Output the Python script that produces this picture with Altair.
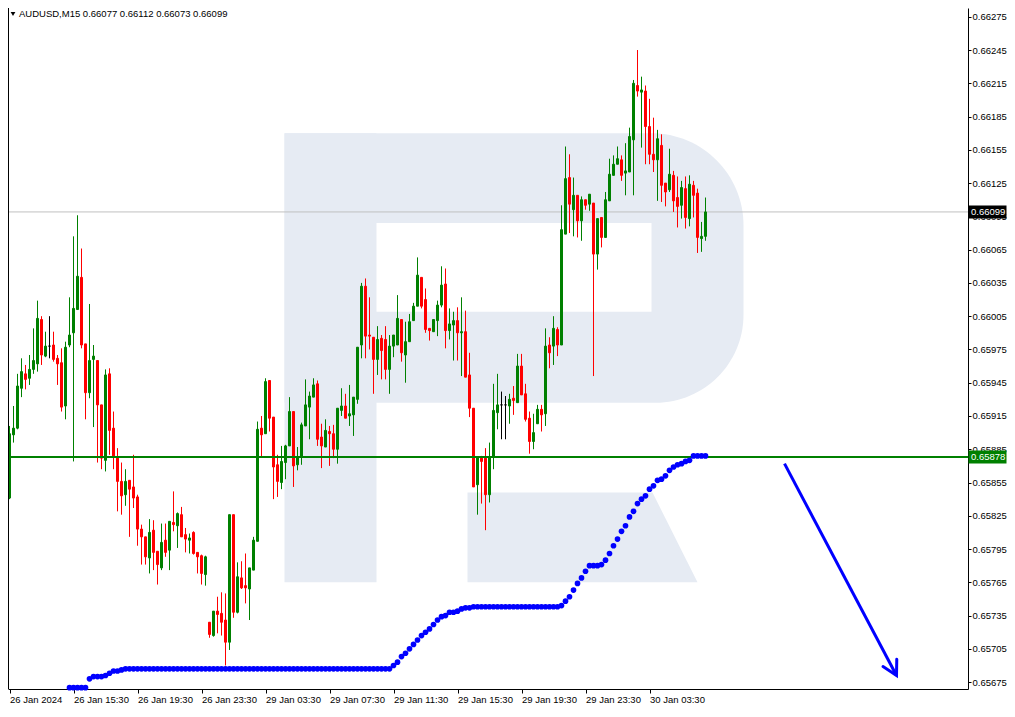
import math
import altair as alt
import pandas as pd
import numpy as np

# ---------------- data (AUDUSD M15) ----------------
bar_open = [
    0.65841, 0.65898, 0.65904, 0.65940, 0.65953, 0.65949, 0.65957, 0.65962, 0.66002, 0.65969,
    0.65978, 0.65979, 0.65967, 0.65963, 0.65924, 0.65979, 0.65990, 0.66011, 0.66040, 0.65980,
    0.65936, 0.65966, 0.65965, 0.65925, 0.65875, 0.65953, 0.65904, 0.65877, 0.65856, 0.65844,
    0.65857, 0.65851, 0.65842, 0.65813, 0.65806, 0.65787, 0.65812, 0.65793, 0.65778, 0.65803,
    0.65794, 0.65819, 0.65816, 0.65826, 0.65808, 0.65803, 0.65810, 0.65792, 0.65789, 0.65772,
    0.65729, 0.65717, 0.65739, 0.65737, 0.65731, 0.65711, 0.65826, 0.65738, 0.65769, 0.65762,
    0.65759, 0.65776, 0.65802, 0.65904, 0.65899, 0.65947, 0.65914, 0.65871, 0.65855, 0.65873,
    0.65888, 0.65919, 0.65871, 0.65878, 0.65906, 0.65923, 0.65932, 0.65944, 0.65896, 0.65887,
    0.65901, 0.65899, 0.65885, 0.65920, 0.65924, 0.65915, 0.65916, 0.65930, 0.65979, 0.66032,
    0.65988, 0.65986, 0.65966, 0.65985, 0.65984, 0.65957, 0.65978, 0.65979, 0.66002, 0.65970,
    0.65982, 0.66001, 0.66014, 0.66040, 0.66020, 0.65994, 0.65991, 0.66001, 0.66015, 0.66034,
    0.65992, 0.65997, 0.66001, 0.65990, 0.65991, 0.65952, 0.65922, 0.65853, 0.65877, 0.65877,
    0.65844, 0.65878, 0.65918, 0.65925, 0.65925, 0.65924, 0.65931, 0.65927, 0.65960, 0.65935,
    0.65913, 0.65892, 0.65908, 0.65921, 0.65917, 0.65979, 0.65978, 0.65993, 0.65979, 0.66079,
    0.66130, 0.66101, 0.66114, 0.66091, 0.66110, 0.66106, 0.66107, 0.66061, 0.66094, 0.66076,
    0.66109, 0.66132, 0.66142, 0.66146, 0.66134, 0.66135, 0.66164, 0.66213, 0.66207, 0.66208,
    0.66176, 0.66151, 0.66146, 0.66159, 0.66125, 0.66119, 0.66132, 0.66112, 0.66105, 0.66120,
    0.66093, 0.66123, 0.66116, 0.66075, 0.66077,
]
bar_high = [
    0.65906, 0.65924, 0.65953, 0.65967, 0.65961, 0.65970, 0.65994, 0.66019, 0.66005, 0.65991,
    0.66005, 0.65991, 0.65970, 0.65976, 0.65982, 0.66022, 0.66077, 0.66096, 0.66066, 0.65980,
    0.66016, 0.65979, 0.65965, 0.65925, 0.65957, 0.65958, 0.65919, 0.65886, 0.65873, 0.65867,
    0.65857, 0.65880, 0.65844, 0.65817, 0.65806, 0.65822, 0.65821, 0.65793, 0.65818, 0.65818,
    0.65820, 0.65847, 0.65828, 0.65833, 0.65814, 0.65809, 0.65811, 0.65792, 0.65790, 0.65789,
    0.65729, 0.65739, 0.65752, 0.65756, 0.65755, 0.65826, 0.65826, 0.65783, 0.65784, 0.65791,
    0.65778, 0.65806, 0.65910, 0.65915, 0.65949, 0.65947, 0.65914, 0.65880, 0.65888, 0.65889,
    0.65932, 0.65919, 0.65887, 0.65909, 0.65948, 0.65937, 0.65949, 0.65947, 0.65908, 0.65912,
    0.65906, 0.65907, 0.65922, 0.65940, 0.65935, 0.65943, 0.65932, 0.65977, 0.66035, 0.66039,
    0.66022, 0.65986, 0.65996, 0.65988, 0.65996, 0.65988, 0.65988, 0.66024, 0.66002, 0.66000,
    0.66007, 0.66017, 0.66058, 0.66040, 0.66030, 0.65994, 0.66002, 0.66019, 0.66050, 0.66048,
    0.66012, 0.66009, 0.66013, 0.66022, 0.66010, 0.65972, 0.65922, 0.65878, 0.65879, 0.65886,
    0.65891, 0.65944, 0.65953, 0.65937, 0.65933, 0.65935, 0.65942, 0.65971, 0.65971, 0.65944,
    0.65919, 0.65917, 0.65925, 0.65925, 0.65994, 0.65986, 0.66005, 0.65995, 0.66105, 0.66158,
    0.66151, 0.66130, 0.66114, 0.66113, 0.66110, 0.66115, 0.66107, 0.66093, 0.66094, 0.66117,
    0.66147, 0.66150, 0.66158, 0.66150, 0.66161, 0.66175, 0.66218, 0.66245, 0.66221, 0.66213,
    0.66201, 0.66184, 0.66173, 0.66169, 0.66125, 0.66156, 0.66136, 0.66131, 0.66127, 0.66131,
    0.66132, 0.66127, 0.66120, 0.66090, 0.66112,
]
bar_low = [
    0.65840, 0.65891, 0.65903, 0.65932, 0.65939, 0.65943, 0.65953, 0.65955, 0.65961, 0.65968,
    0.65967, 0.65964, 0.65943, 0.65919, 0.65912, 0.65977, 0.65874, 0.66011, 0.65976, 0.65912,
    0.65931, 0.65905, 0.65873, 0.65867, 0.65865, 0.65880, 0.65867, 0.65829, 0.65826, 0.65834,
    0.65806, 0.65832, 0.65798, 0.65781, 0.65781, 0.65773, 0.65776, 0.65763, 0.65776, 0.65788,
    0.65776, 0.65811, 0.65796, 0.65806, 0.65792, 0.65791, 0.65790, 0.65773, 0.65763, 0.65762,
    0.65715, 0.65716, 0.65719, 0.65717, 0.65690, 0.65704, 0.65733, 0.65737, 0.65759, 0.65746,
    0.65731, 0.65776, 0.65802, 0.65878, 0.65899, 0.65901, 0.65840, 0.65842, 0.65849, 0.65858,
    0.65888, 0.65851, 0.65866, 0.65871, 0.65906, 0.65894, 0.65932, 0.65888, 0.65868, 0.65887,
    0.65870, 0.65877, 0.65872, 0.65915, 0.65913, 0.65906, 0.65897, 0.65926, 0.65967, 0.65967,
    0.65975, 0.65935, 0.65952, 0.65948, 0.65948, 0.65935, 0.65968, 0.65979, 0.65964, 0.65945,
    0.65982, 0.66001, 0.66014, 0.66012, 0.65990, 0.65983, 0.65991, 0.65987, 0.66013, 0.65976,
    0.65984, 0.65965, 0.65965, 0.65951, 0.65950, 0.65914, 0.65851, 0.65826, 0.65836, 0.65812,
    0.65837, 0.65867, 0.65903, 0.65894, 0.65894, 0.65908, 0.65916, 0.65927, 0.65934, 0.65910,
    0.65881, 0.65885, 0.65908, 0.65901, 0.65906, 0.65958, 0.65961, 0.65969, 0.65979, 0.66079,
    0.66080, 0.66077, 0.66076, 0.66073, 0.66101, 0.66100, 0.65951, 0.66047, 0.66067, 0.66076,
    0.66109, 0.66132, 0.66142, 0.66127, 0.66114, 0.66135, 0.66114, 0.66203, 0.66157, 0.66142,
    0.66142, 0.66135, 0.66109, 0.66108, 0.66104, 0.66117, 0.66099, 0.66085, 0.66093, 0.66084,
    0.66086, 0.66094, 0.66062, 0.66063, 0.66073,
]
bar_close = [
    0.65899, 0.65904, 0.65942, 0.65955, 0.65948, 0.65957, 0.65965, 0.66003, 0.65970, 0.65978,
    0.65978, 0.65966, 0.65962, 0.65923, 0.65977, 0.65988, 0.66012, 0.66041, 0.65979, 0.65936,
    0.65965, 0.65969, 0.65925, 0.65877, 0.65952, 0.65902, 0.65879, 0.65856, 0.65843, 0.65856,
    0.65849, 0.65841, 0.65813, 0.65806, 0.65788, 0.65810, 0.65792, 0.65781, 0.65801, 0.65792,
    0.65820, 0.65817, 0.65827, 0.65806, 0.65804, 0.65805, 0.65791, 0.65788, 0.65773, 0.65788,
    0.65718, 0.65739, 0.65736, 0.65729, 0.65711, 0.65826, 0.65738, 0.65770, 0.65760, 0.65760,
    0.65778, 0.65803, 0.65903, 0.65898, 0.65946, 0.65913, 0.65869, 0.65856, 0.65874, 0.65888,
    0.65919, 0.65870, 0.65878, 0.65907, 0.65925, 0.65933, 0.65943, 0.65894, 0.65888, 0.65902,
    0.65899, 0.65885, 0.65922, 0.65924, 0.65913, 0.65917, 0.65932, 0.65977, 0.66032, 0.65987,
    0.65987, 0.65966, 0.65984, 0.65974, 0.65957, 0.65978, 0.65988, 0.66003, 0.65972, 0.65982,
    0.66000, 0.66014, 0.66042, 0.66014, 0.65993, 0.65992, 0.66002, 0.66015, 0.66033, 0.65992,
    0.65998, 0.66001, 0.65990, 0.65991, 0.65950, 0.65922, 0.65851, 0.65878, 0.65874, 0.65844,
    0.65878, 0.65920, 0.65925, 0.65925, 0.65925, 0.65930, 0.65929, 0.65960, 0.65934, 0.65912,
    0.65892, 0.65900, 0.65921, 0.65916, 0.65978, 0.65972, 0.65994, 0.65979, 0.66083, 0.66129,
    0.66106, 0.66114, 0.66091, 0.66110, 0.66105, 0.66115, 0.66061, 0.66093, 0.66076, 0.66110,
    0.66133, 0.66142, 0.66147, 0.66132, 0.66136, 0.66167, 0.66215, 0.66208, 0.66209, 0.66176,
    0.66151, 0.66146, 0.66165, 0.66123, 0.66117, 0.66133, 0.66109, 0.66104, 0.66121, 0.66094,
    0.66124, 0.66114, 0.66076, 0.66077, 0.66099,
]

# trailing-stop style dotted indicator (one dot per bar, starting at bar 15)
sar_first_bar = 15
sar_values = [
    0.65670, 0.65670, 0.65670, 0.65670, 0.65670, 0.65678, 0.65680, 0.65680, 0.65680, 0.65681,
    0.65683, 0.65685, 0.65685, 0.65686, 0.65687, 0.65687, 0.65687, 0.65687, 0.65687, 0.65687,
    0.65687, 0.65687, 0.65687, 0.65687, 0.65687, 0.65687, 0.65687, 0.65687, 0.65687, 0.65687,
    0.65687, 0.65687, 0.65687, 0.65687, 0.65687, 0.65687, 0.65687, 0.65687, 0.65687, 0.65687,
    0.65687, 0.65687, 0.65687, 0.65687, 0.65687, 0.65687, 0.65687, 0.65687, 0.65687, 0.65687,
    0.65687, 0.65687, 0.65687, 0.65687, 0.65687, 0.65687, 0.65687, 0.65687, 0.65687, 0.65687,
    0.65687, 0.65687, 0.65687, 0.65687, 0.65687, 0.65687, 0.65687, 0.65687, 0.65687, 0.65687,
    0.65687, 0.65687, 0.65687, 0.65687, 0.65687, 0.65687, 0.65687, 0.65687, 0.65687, 0.65687,
    0.65687, 0.65690, 0.65693, 0.65698, 0.65701, 0.65705, 0.65709, 0.65713, 0.65717, 0.65720,
    0.65723, 0.65727, 0.65731, 0.65734, 0.65735, 0.65738, 0.65738, 0.65739, 0.65741, 0.65742,
    0.65742, 0.65743, 0.65743, 0.65743, 0.65743, 0.65743, 0.65743, 0.65743, 0.65743, 0.65743,
    0.65743, 0.65743, 0.65743, 0.65743, 0.65743, 0.65743, 0.65743, 0.65743, 0.65743, 0.65743,
    0.65743, 0.65743, 0.65743, 0.65744, 0.65748, 0.65752, 0.65758, 0.65764, 0.65769, 0.65775,
    0.65780, 0.65780, 0.65780, 0.65781, 0.65785, 0.65791, 0.65798, 0.65804, 0.65811, 0.65816,
    0.65824, 0.65829, 0.65836, 0.65840, 0.65843, 0.65849, 0.65852, 0.65857, 0.65858, 0.65861,
    0.65866, 0.65869, 0.65871, 0.65872, 0.65874, 0.65875, 0.65879, 0.65879, 0.65879, 0.65879,
]

time_label_bars = [0, 16, 32, 48, 64, 80, 96, 112, 128, 144, 160]
time_labels = ["26 Jan 2024", "26 Jan 15:30", "26 Jan 19:30", "26 Jan 23:30",
               "29 Jan 03:30", "29 Jan 07:30", "29 Jan 11:30", "29 Jan 15:30",
               "29 Jan 19:30", "29 Jan 23:30", "30 Jan 03:30"]
price_ticks = [0.65675, 0.65705, 0.65735, 0.65765, 0.65795, 0.65825, 0.65855, 0.65885,
               0.65915, 0.65945, 0.65975, 0.66005, 0.66035, 0.66065, 0.66095, 0.66125,
               0.66155, 0.66185, 0.66215, 0.66245, 0.66275]
bid_price = 0.66099
level_price = 0.65878
title_text = "AUDUSD,M15  0.66077 0.66112 0.66073 0.66099"
arrow_bars = [193.75, 221.75]
arrow_prices = [0.65872, 0.65681]

# watermark logo (in bar / price units)
wm_stem_bars, wm_stem_prices = [68.75, 91.75], [0.65765, 0.66170]
wm_bowl_bars, wm_bowl_prices = [68.75, 183.5], [0.65927, 0.66170]
wm_hole_bars, wm_hole_prices = [91.75, 160.5], [0.66009, 0.66089]
wm_leg_prices = [0.65846, 0.65765]
wm_leg_left = [114.5, 114.5]
wm_leg_right = [160.75, 172.0]

assert len(bar_open) == len(bar_high) == len(bar_low) == len(bar_close) == 175
assert len(sar_values) == 160

# ---------------- layout / style ----------------
W, H = 960, 681
PAD_R, PAD_B = 39, 16
X_DOMAIN = [-0.375, 239.625]          # 4 px per bar, bar centres on half pixels
Y_DOMAIN = [0.656688, 0.662829]
FONT = "Liberation Sans"
GREEN, RED, BLUE = "#008000", "#ff0000", "#0000ff"
WM = "#e6ebf3"

xs = alt.Scale(domain=X_DOMAIN, nice=False, zero=False)
ys = alt.Scale(domain=Y_DOMAIN, nice=False, zero=False)

label_arr = "[" + ",".join("'%s'" % s for s in time_labels) + "]"
bar_arr = "[" + ",".join(str(b) for b in time_label_bars) + "]"
x_axis = alt.Axis(values=time_label_bars, labelExpr=f"{label_arr}[indexof({bar_arr}, datum.value)]",
                  orient="bottom", grid=False, title=None, domainColor="black", domainWidth=1,
                  tickColor="black", tickSize=4, labelAlign="left", labelBaseline="top",
                  labelPadding=1, labelFont=FONT, labelFontSize=9.5, labelColor="black",
                  labelFlush=False, labelOverlap=False, labelBound=False)
y_axis = alt.Axis(values=price_ticks, format=".5f", orient="right", grid=False, title=None,
                  domainColor="black", domainWidth=1, tickColor="black", tickSize=3,
                  labelPadding=1, labelFont=FONT, labelFontSize=9.5, labelColor="black",
                  labelAlign="left", labelBaseline="middle", labelOverlap=False, labelFlush=False)


def X(f):
    return alt.X(f, type="quantitative", scale=xs, axis=x_axis)


def Y(f):
    return alt.Y(f, type="quantitative", scale=ys, axis=y_axis)


df = pd.DataFrame({"bar": np.arange(len(bar_open)), "open": bar_open, "high": bar_high,
                   "low": bar_low, "close": bar_close})
df["dir"] = np.where(df.close > df.open, "up", np.where(df.close < df.open, "down", "flat"))
df["xl"] = df.bar - 0.25
df["xr"] = df.bar + 0.25

color_enc = alt.Color("dir:N", scale=alt.Scale(domain=["up", "down", "flat"],
                                               range=[GREEN, RED, "#000000"]), legend=None)

# watermark
stem = alt.Chart(pd.DataFrame({"x1": [wm_stem_bars[0]], "x2": [wm_stem_bars[1]],
                               "y1": [wm_stem_prices[0]], "y2": [wm_stem_prices[1]]})).mark_rect(
    color=WM).encode(x=X("x1"), x2="x2", y=Y("y1"), y2="y2")
bowl = alt.Chart(pd.DataFrame({"x1": [wm_bowl_bars[0]], "x2": [wm_bowl_bars[1]],
                               "y1": [wm_bowl_prices[0]], "y2": [wm_bowl_prices[1]]})).mark_rect(
    color=WM, cornerRadiusTopRight=92, cornerRadiusBottomRight=88).encode(
    x=X("x1"), x2="x2", y=Y("y1"), y2="y2")
hole = alt.Chart(pd.DataFrame({"x1": [wm_hole_bars[0]], "x2": [wm_hole_bars[1]],
                               "y1": [wm_hole_prices[0]], "y2": [wm_hole_prices[1]]})).mark_rect(
    color="white").encode(x=X("x1"), x2="x2", y=Y("y1"), y2="y2")
leg = alt.Chart(pd.DataFrame({"p": wm_leg_prices, "xa": wm_leg_left, "xb": wm_leg_right})).mark_area(
    orient="horizontal", color=WM, opacity=1).encode(y=Y("p"), x=X("xa"), x2="xb")

# horizontal price lines
bid_line = alt.Chart(pd.DataFrame({"p": [bid_price]})).mark_rule(color="#c0c0c0", strokeWidth=1).encode(y=Y("p"))
level_line = alt.Chart(pd.DataFrame({"p": [level_price]})).mark_rule(color=GREEN, strokeWidth=2).encode(y=Y("p"))

# candles
base = alt.Chart(df)
wicks = base.mark_rule(strokeWidth=1).encode(x=X("bar"), y=Y("low"), y2="high", color=color_enc)
bodies = base.mark_rect(strokeWidth=1).encode(x=X("xl"), x2="xr", y=Y("open"), y2="close",
                                               color=color_enc, stroke=color_enc)

# dotted indicator
sar_df = pd.DataFrame({"bar": np.arange(sar_first_bar, sar_first_bar + len(sar_values)), "p": sar_values})
dots = alt.Chart(sar_df).mark_circle(size=32, color=BLUE, opacity=1).encode(x=X("bar"), y=Y("p"))

# arrow
px_bar = W / (X_DOMAIN[1] - X_DOMAIN[0])
px_price = H / (Y_DOMAIN[1] - Y_DOMAIN[0])
dx = (arrow_bars[1] - arrow_bars[0]) * px_bar
dy = (arrow_prices[0] - arrow_prices[1]) * px_price
arrow_angle = math.degrees(math.atan2(dx, -dy)) % 360
arrow_df = pd.DataFrame({"bar": arrow_bars, "p": arrow_prices})
arrow_line = alt.Chart(arrow_df).mark_line(color=BLUE, strokeWidth=3).encode(x=X("bar"), y=Y("p"))
arrow_head = alt.Chart(arrow_df.iloc[[1]]).mark_point(
    shape="M -0.55 1 L 0 0 L 0.55 1", filled=False, color=BLUE, strokeWidth=3, opacity=1,
    size=800, angle=arrow_angle, strokeCap="round", strokeJoin="miter").encode(x=X("bar"), y=Y("p"))

# left frame line
one = pd.DataFrame({"k": [0]})
left_frame = alt.Chart(one).mark_rule(color="black", strokeWidth=1).encode(
    x=alt.value(0.5), y=alt.value(0), y2=alt.value(H))

# title
tri = alt.Chart(one).mark_point(shape="triangle-down", filled=True, color="black", size=22, opacity=1).encode(
    x=alt.value(5), y=alt.value(6))
title = alt.Chart(pd.DataFrame({"t": [title_text]})).mark_text(
    align="left", baseline="top", font=FONT, fontSize=9.5, color="black").encode(
    x=alt.value(11), y=alt.value(1), text="t:N")

# price tags on the right axis
tag_df = pd.DataFrame({"p": [bid_price, level_price],
                       "label": ["%.5f" % bid_price, "%.5f" % level_price],
                       "bg": ["#000000", GREEN]})
tag_box = alt.Chart(tag_df).mark_point(
    shape="M -1 -0.34 L 1 -0.34 L 1 0.34 L -1 0.34 Z", filled=True, opacity=1, size=1444).encode(
    x=alt.value(W + 19.5), y=Y("p"), color=alt.Color("bg:N", scale=None, legend=None))
tag_text = alt.Chart(tag_df).mark_text(
    align="left", baseline="middle", font=FONT, fontSize=9.5, color="white").encode(
    x=alt.value(W + 3), y=Y("p"), text="label:N")

chart = alt.layer(
    bowl, stem, hole, leg, bid_line, wicks, bodies, level_line, dots,
    arrow_line, arrow_head, left_frame, tri, title, tag_box, tag_text,
).properties(
    width=W, height=H,
    autosize=alt.AutoSizeParams(type="none"),
    padding={"left": 0, "top": 0, "right": PAD_R, "bottom": PAD_B},
    background="white",
).configure_view(stroke=None)

chart.save("out.html", embed_options={"renderer": "svg", "actions": False})
